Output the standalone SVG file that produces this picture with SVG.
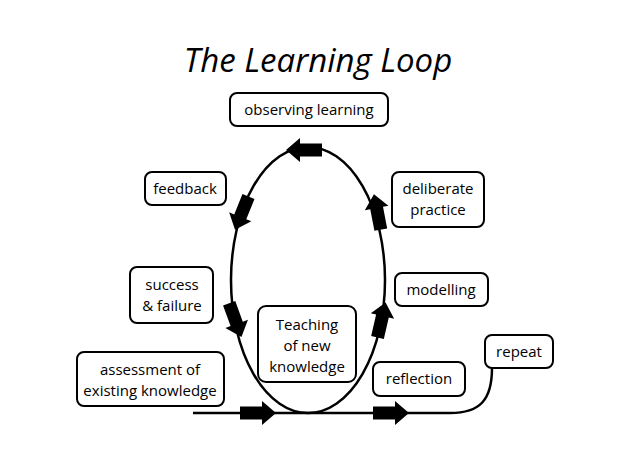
<svg xmlns="http://www.w3.org/2000/svg" width="638" height="451" viewBox="0 0 638 451">
<style>
.b{fill:#fff;stroke:#000;stroke-width:2}
.t{font-family:"Open Sans","Liberation Sans",sans-serif;font-size:15px;text-anchor:middle;fill:#000}
.l{fill:none;stroke:#000;stroke-width:2.5}
</style>
<defs><path id="a" d="M-20,-6.5 H2 V-12 L16,0 L2,12 V6.5 H-20 Z" fill="#000"/></defs>
<rect width="638" height="451" fill="#fff"/>
<text x="318" y="72" font-family="'Open Sans','DejaVu Sans',sans-serif" font-style="italic" font-size="33" text-anchor="middle">The Learning Loop</text>
<g id="connectors">
<ellipse class="l" cx="308" cy="280" rx="77" ry="133"/>
<path class="l" d="M193,413 H450 C480,413 492,400 492,368"/>
<use href="#a" transform="translate(302,150) rotate(180)"/>
<use href="#a" transform="translate(241,215) rotate(112)"/>
<use href="#a" transform="translate(236,322) rotate(70)"/>
<use href="#a" transform="translate(377,210) rotate(-101)"/>
<use href="#a" transform="translate(382,318) rotate(-77)"/>
<use href="#a" transform="translate(260,413)"/>
<use href="#a" transform="translate(393,413)"/>
</g>
<g id="n1"><rect class="b" x="230" y="93" width="158" height="33" rx="7"/><text class="t" x="309" y="115">observing learning</text></g>
<g id="n2"><rect class="b" x="145" y="172" width="81" height="33" rx="7"/><text class="t" x="185" y="194">feedback</text></g>
<g id="n3"><rect class="b" x="392" y="172" width="92" height="55" rx="7"/><text class="t" x="438" y="194">deliberate</text><text class="t" x="438" y="215">practice</text></g>
<g id="n4"><rect class="b" x="130" y="267" width="83" height="56" rx="7"/><text class="t" x="172" y="290">success</text><text class="t" x="172" y="311">&amp; failure</text></g>
<g id="n5"><rect class="b" x="395" y="273" width="93" height="33" rx="7"/><text class="t" x="441" y="295">modelling</text></g>
<g id="n6"><rect class="b" x="258" y="306" width="98" height="76" rx="8"/><text class="t" x="307" y="330">Teaching</text><text class="t" x="307" y="351">of new</text><text class="t" x="307" y="372">knowledge</text></g>
<g id="n7"><rect class="b" x="77" y="352" width="147" height="54" rx="7"/><text class="t" x="150" y="375">assessment of</text><text class="t" x="150" y="396">existing knowledge</text></g>
<g id="n8"><rect class="b" x="373" y="362" width="92" height="34" rx="7"/><text class="t" x="419" y="384">reflection</text></g>
<g id="n9"><rect class="b" x="485" y="335" width="68" height="33" rx="7"/><text class="t" x="519" y="357">repeat</text></g>
</svg>
